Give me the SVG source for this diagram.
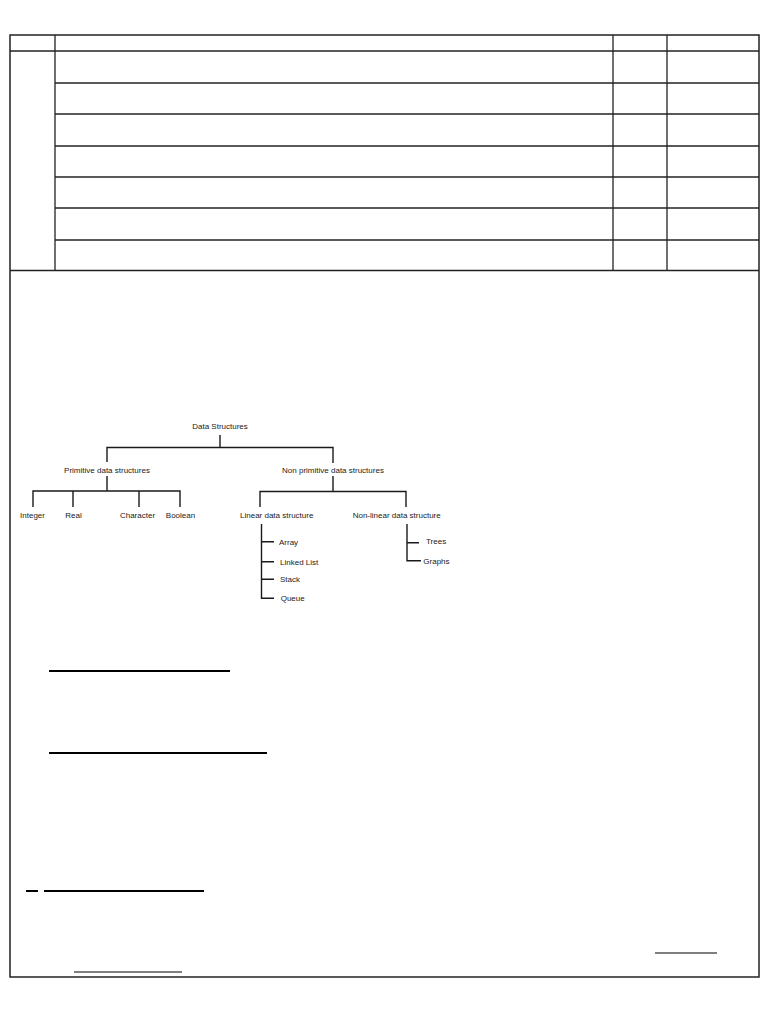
<svg xmlns="http://www.w3.org/2000/svg" width="768" height="1024" viewBox="0 0 768 1024">
<style>
.frame{fill:none;stroke:#222;stroke-width:1.5}
.grid{stroke:#222;stroke-width:1.3;fill:none}
.conn{stroke:#1a1a1a;stroke-width:1.4;fill:none}
.lbl{font-family:"Liberation Sans",Arial,sans-serif;font-size:8px;fill:#222}
.ul{stroke:#000;stroke-width:2}
.ul2{stroke:#555;stroke-width:1.6}
</style>
<rect width="768" height="1024" fill="#fff"/>
<g id="table">
<rect class="frame" x="10" y="35" width="749" height="942"/>
<line class="grid" x1="10" y1="51" x2="759" y2="51"/>
<line class="grid" x1="55" y1="83" x2="759" y2="83"/>
<line class="grid" x1="55" y1="114" x2="759" y2="114"/>
<line class="grid" x1="55" y1="146" x2="759" y2="146"/>
<line class="grid" x1="55" y1="177" x2="759" y2="177"/>
<line class="grid" x1="55" y1="208" x2="759" y2="208"/>
<line class="grid" x1="55" y1="240" x2="759" y2="240"/>
<line class="frame" x1="10" y1="270.5" x2="759" y2="270.5"/>
<line class="grid" x1="55" y1="35" x2="55" y2="270"/>
<line class="grid" x1="613" y1="35" x2="613" y2="270"/>
<line class="grid" x1="667" y1="35" x2="667" y2="270"/>
</g>
<g id="connectors">
<path class="conn" d="M220,435 V447.5 M107,462 V447.5 H333 V463"/>
<path class="conn" d="M107,476 V491 M33,507 V491 H180 V507 M73,491 V507 M139,491 V507"/>
<path class="conn" d="M333,476 V491.5 M260,507 V491.5 H406 V507"/>
<path class="conn" d="M261.5,524 V598.3 H274 M261.5,541.7 H274 M261.5,561.7 H274 M261.5,579.3 H274"/>
<path class="conn" d="M407,524 V560.7 H421 M407,542.7 H419"/>
</g>
<g id="n-root"><text class="lbl" x="220" y="428.5" text-anchor="middle">Data Structures</text></g>
<g id="n-prim"><text class="lbl" x="107" y="473" text-anchor="middle">Primitive data structures</text></g>
<g id="n-nonprim"><text class="lbl" x="333" y="473" text-anchor="middle">Non primitive data structures</text></g>
<g id="n-integer"><text class="lbl" x="32.5" y="518" text-anchor="middle">Integer</text></g>
<g id="n-real"><text class="lbl" x="73.5" y="518" text-anchor="middle">Real</text></g>
<g id="n-char"><text class="lbl" x="137.5" y="518" text-anchor="middle">Character</text></g>
<g id="n-bool"><text class="lbl" x="180.5" y="518" text-anchor="middle">Boolean</text></g>
<g id="n-linear"><text class="lbl" x="276.7" y="518" text-anchor="middle">Linear data structure</text></g>
<g id="n-nonlinear"><text class="lbl" x="396.7" y="518" text-anchor="middle">Non-linear data structure</text></g>
<g id="n-array"><text class="lbl" x="279" y="544.5">Array</text></g>
<g id="n-linked"><text class="lbl" x="280" y="564.5">Linked List</text></g>
<g id="n-stack"><text class="lbl" x="280" y="582">Stack</text></g>
<g id="n-queue"><text class="lbl" x="280.7" y="601">Queue</text></g>
<g id="n-trees"><text class="lbl" x="426" y="544">Trees</text></g>
<g id="n-graphs"><text class="lbl" x="423.3" y="564">Graphs</text></g>
<g id="underlines">
<line class="ul" x1="49" y1="671" x2="230" y2="671"/>
<line class="ul" x1="49" y1="753" x2="267" y2="753"/>
<line class="ul" x1="26" y1="891" x2="38" y2="891"/>
<line class="ul" x1="44" y1="891" x2="204" y2="891"/>
<line class="ul2" x1="655" y1="953" x2="717" y2="953"/>
<line class="ul2" x1="74" y1="972" x2="182" y2="972"/>
</g>
</svg>
